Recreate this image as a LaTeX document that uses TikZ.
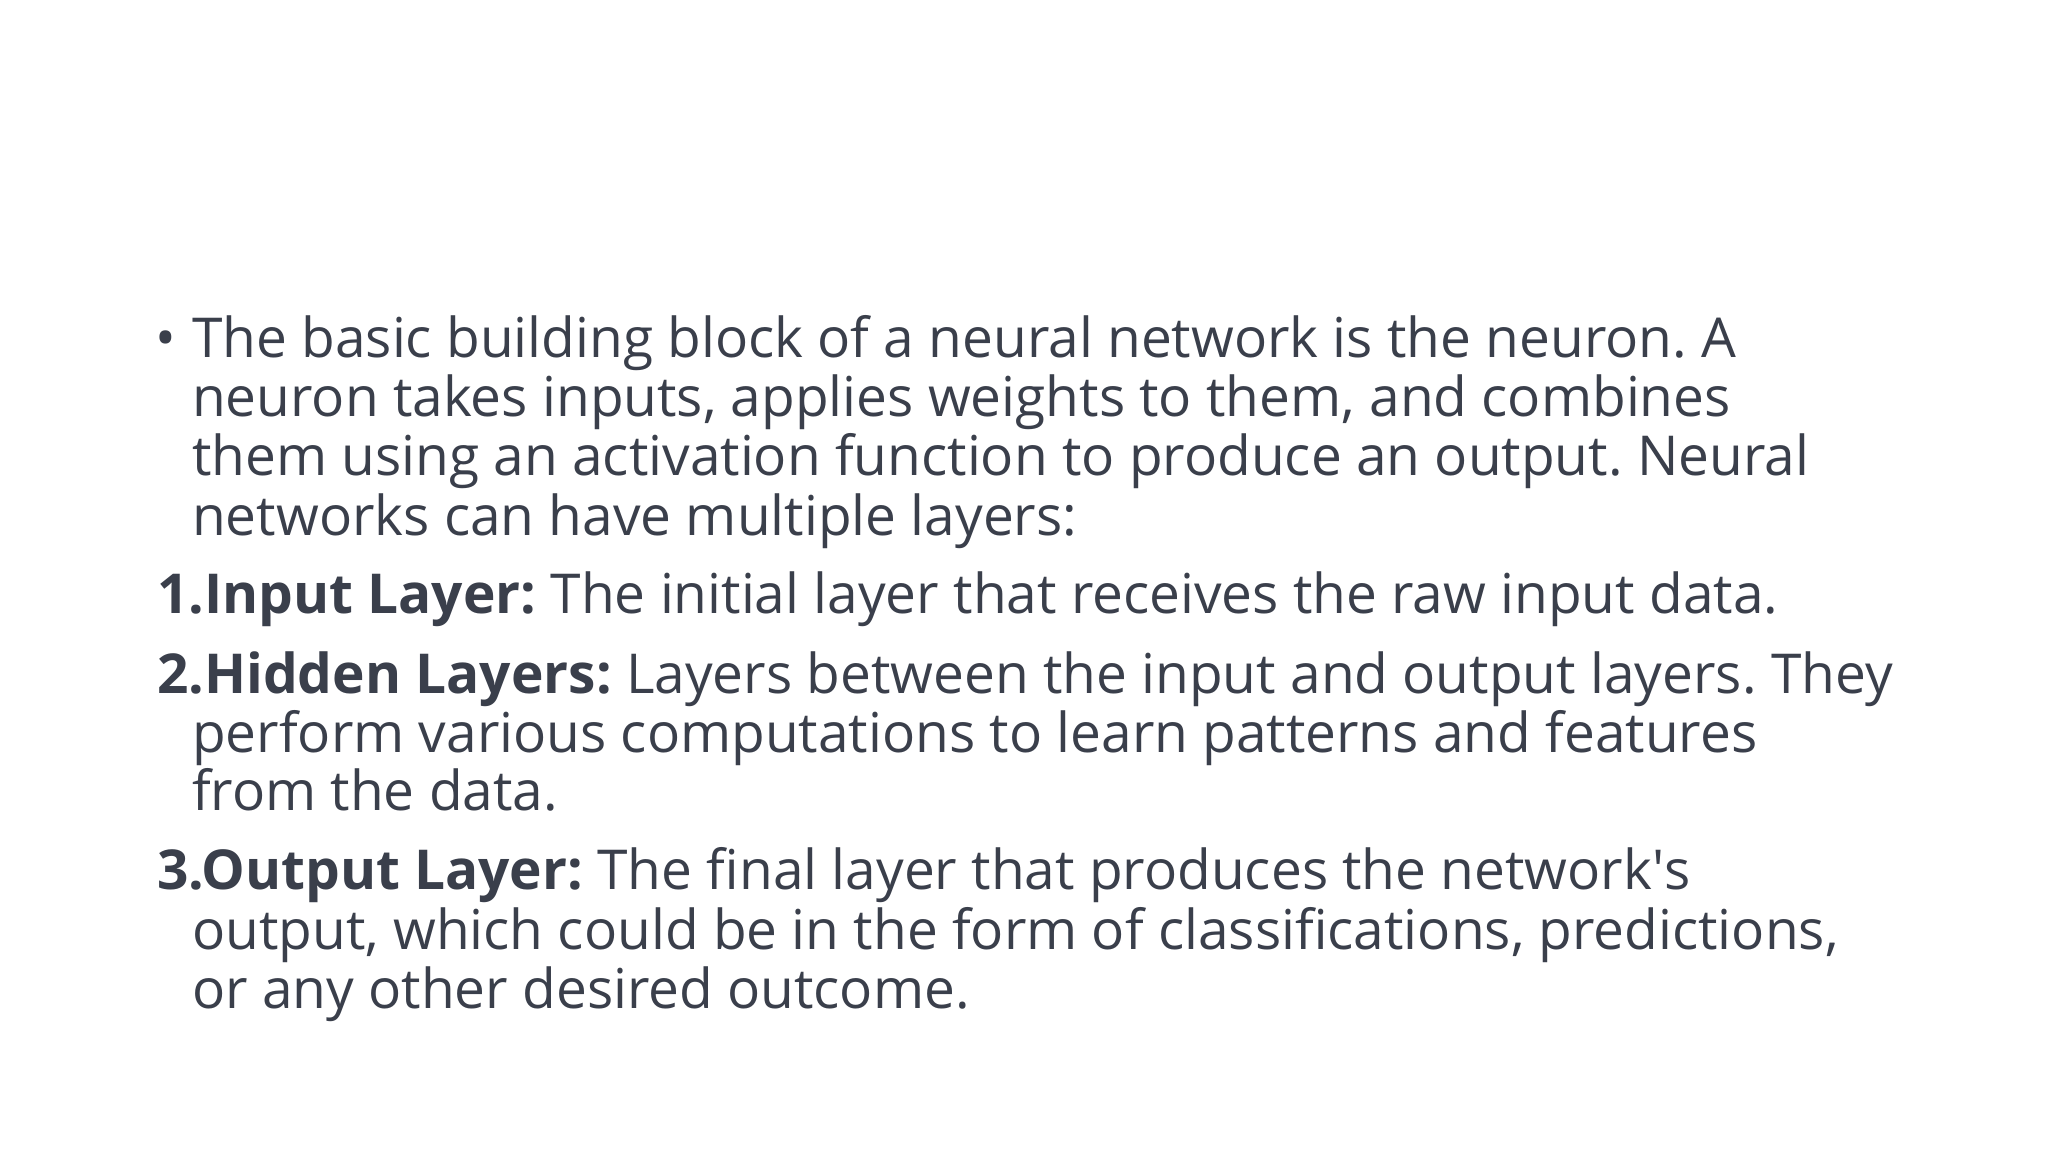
\documentclass[tikz,border=0pt]{standalone}
\usepackage{fontspec}
\setmainfont{Open Sans}
\definecolor{txt}{HTML}{3A3F4B}
\begin{document}
\frenchspacing
\begin{tikzpicture}[x=1pt,y=-1pt,
  ln/.style={anchor=mid west,inner sep=0pt,text=txt,font=\fontsize{55}{66}\selectfont\frenchspacing}]
\useasboundingbox (0,0) rectangle (2048,1152);
\fill[white] (0,0) rectangle (2048,1152);
\node[ln] (b0) at (155,355) {•};
\node[ln] (a1) at (192,355) {The basic building block of a neural network is the neuron. A};
\node[ln] (a2) at (192,414) {neuron takes inputs, applies weights to them, and combines};
\node[ln] (a3) at (192,473) {them using an activation function to produce an output. Neural};
\node[ln] (a4) at (192,533) {networks can have multiple layers:};
\node[ln] (n1) at (157,611) {\textbf{1.Input Layer:} The initial layer that receives the raw input data.};
\node[ln] (n2) at (157,691) {\textbf{2.Hidden Layers:} Layers between the input and output layers. They};
\node[ln] (n2b) at (192,750) {perform various computations to learn patterns and features};
\node[ln] (n2c) at (192,808) {from the data.};
\node[ln] (n3) at (157,887) {\textbf{3.Output Layer:} The final layer that produces the network\textquotesingle s};
\node[ln] (n3b) at (192,947) {output, which could be in the form of classifications, predictions,};
\node[ln] (n3c) at (192,1006) {or any other desired outcome.};
\end{tikzpicture}
\end{document}
